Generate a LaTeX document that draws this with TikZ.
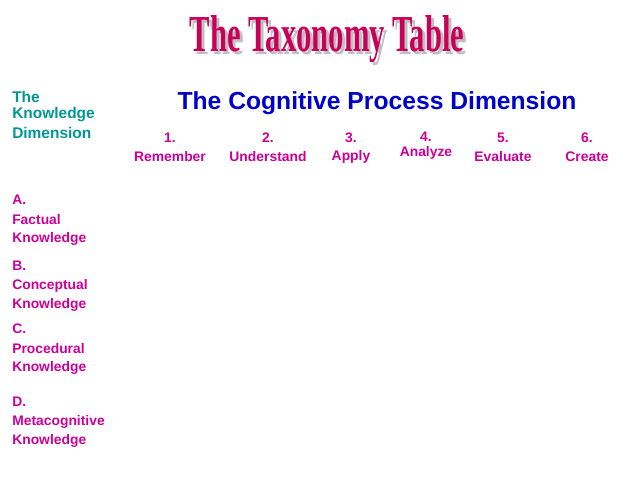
\documentclass[tikz,border=0pt]{standalone}
\usepackage{fontspec}
\setmainfont{Liberation Sans}
\newfontfamily\titlefont{Liberation Serif}
\definecolor{teal1}{RGB}{0,150,150}
\definecolor{mag}{RGB}{204,0,153}
\definecolor{blu}{RGB}{0,0,204}
\definecolor{ttl}{RGB}{200,0,90}
\begin{document}
\begin{tikzpicture}[x=0.75pt,y=-0.75pt,
  kd/.style={anchor=west,text=teal1,font=\bfseries\fontsize{11.6}{13}\selectfont,inner sep=0},
  ch/.style={text=mag,font=\bfseries\fontsize{10.4}{12}\selectfont,inner sep=0},
  rw/.style={anchor=west,text=mag,font=\bfseries\fontsize{10.4}{12}\selectfont,inner sep=0}]
\useasboundingbox[fill=white] (0,0) rectangle (638,478);
\node[text=black!25,inner sep=0] (tsh) at (330,42) {\resizebox{206pt}{27pt}{\titlefont\bfseries The Taxonomy Table}};
\node[text=ttl,inner sep=0] (title) at (327,39) {\resizebox{206pt}{27pt}{\titlefont\bfseries The Taxonomy Table}};
\node[kd] (k1) at (12,97) {The};
\node[kd] (k2) at (12,115) {Knowledge};
\node[kd] (k3) at (12,133) {Dimension};
\node[text=blu,font=\bfseries\fontsize{18.5}{22}\selectfont,inner sep=0] (cpd) at (377,103) {The Cognitive Process Dimension};
\foreach \n/\x/\t [count=\i] in {1./170/Remember,2./268/Understand,3./351/Apply,5./503/Evaluate,6./587/Create}{
  \node[ch] (n\i) at (\x,138) {\n};
  \node[ch] (t\i) at (\x,157) {\t};
}
\node[ch] (n4) at (426,137) {4.};
\node[ch] (t4) at (426,153) {Analyze};
\foreach \a/\b/\y [count=\i] in {A./Factual/200,B./Conceptual/266,C./Procedural/329,D./Metacognitive/402}{
  \node[rw] (ra\i) at (12,\y) {\a};
  \node[rw] (rb\i) at (12,\y+20) {\b};
  \node[rw] (rc\i) at (12,\y+39) {Knowledge};
}
\end{tikzpicture}
\end{document}
